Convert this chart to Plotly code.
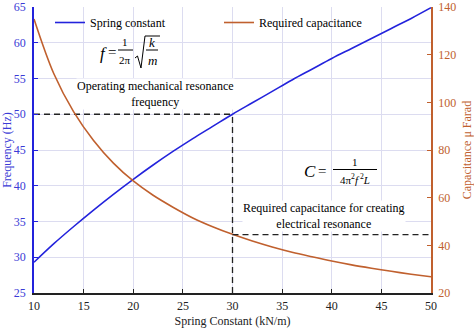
import plotly.graph_objects as go

# ---- data ----
spring_k = [10, 12, 14, 16, 18, 20, 22, 24, 26, 28, 30, 32, 34, 36, 38, 40, 42, 44, 46, 48, 50]
frequency_hz = [29.3, 31.9, 34.3, 36.6, 38.8, 40.9, 42.9, 44.8, 46.6, 48.3, 50.0,
                51.6, 53.2, 54.8, 56.3, 57.8, 59.2, 60.6, 62.0, 63.4, 64.9]
capacitance_uf = [135, 112, 96, 84, 74.5, 67, 61, 56, 51.5, 47.8, 44.6,
                  41.8, 39.3, 37.1, 35.2, 33.4, 31.8, 30.4, 29.1, 27.9, 26.8]

k_operating = 30
f_operating = 50
c_required = 44.5
x_range = [10, 50]
f_range = [25, 65]
c_range = [20, 140]

BLUE = "#2323dc"
BLUE_TXT = "#3b3bd6"
BROWN = "#c0602e"
GRID = "#dcdcf0"
FONT = "Liberation Serif"
FS = 12

fig = go.Figure()
fig.add_trace(go.Scatter(x=spring_k, y=frequency_hz, mode="lines", name="Spring constant",
                         line=dict(color=BLUE, width=1.6), line_shape="spline"))
fig.add_trace(go.Scatter(x=spring_k, y=capacitance_uf, mode="lines", name="Required capacitance",
                         line=dict(color=BROWN, width=1.6), line_shape="spline", yaxis="y2"))

dash = dict(color="#222222", width=1.3, dash="6px,4px")
fig.add_trace(go.Scatter(x=[x_range[0], k_operating], y=[f_operating, f_operating], mode="lines",
                         line=dash, showlegend=False, hoverinfo="skip"))
fig.add_trace(go.Scatter(x=[k_operating, k_operating], y=[f_range[0], f_operating], mode="lines",
                         line=dash, showlegend=False, hoverinfo="skip"))
fig.add_trace(go.Scatter(x=[k_operating, x_range[1]], y=[c_required, c_required], mode="lines",
                         line=dash, showlegend=False, hoverinfo="skip", yaxis="y2"))

L, R, T, B = 34, 431, 7, 293
W, H = 474, 330


def px(x):
    return (x - L) / (R - L)


def py(y):
    return (B - y) / (B - T)


ann = []
shapes = []


def txt(x, y, s, size=FS, color="black", bg=None, italic=False, xanchor="center"):
    if italic:
        s = "<i>" + s + "</i>"
    d = dict(x=px(x), y=py(y), xref="paper", yref="paper", text=s, showarrow=False,
             font=dict(family=FONT, size=size, color=color), xanchor=xanchor, yanchor="middle",
             borderpad=0)
    if bg:
        d["bgcolor"] = bg
    ann.append(d)


def hline(x0, x1, y, w=1):
    shapes.append(dict(type="line", xref="paper", yref="paper", x0=px(x0), x1=px(x1),
                       y0=py(y), y1=py(y), line=dict(color="black", width=w)))


def wbox(x0, x1, y0, y1):
    shapes.append(dict(type="rect", xref="paper", yref="paper", x0=px(x0), x1=px(x1),
                       y0=py(y1), y1=py(y0), fillcolor="white", line=dict(width=0),
                       layer="between"))


# f = 1/(2pi) sqrt(k/m)
wbox(90, 164, 30, 73)
txt(103, 53, "f", size=17, italic=True)
txt(112, 52, "=", size=15)
txt(125, 42, "1", size=11)
hline(118, 133, 50)
txt(125, 60, "2π", size=11)
# radical sign drawn as a path
shapes.append(dict(type="path", xref="paper", yref="paper",
                   path="M %f,%f L %f,%f L %f,%f L %f,%f L %f,%f" % (
                       px(135), py(58), px(137.5), py(56), px(141), py(68),
                       px(145), py(36), px(160), py(36)),
                   line=dict(color="black", width=1)))
txt(152, 43, "k", size=13, italic=True)
hline(146, 158, 50)
txt(152, 60, "m", size=13, italic=True)

# C = 1/(4 pi^2 f^2 L)
wbox(300, 382, 155, 188)
txt(310, 172, "C", size=17, italic=True)
txt(322, 171, "=", size=15)
txt(355, 162, "1", size=11)
hline(333, 377, 169.5)
txt(355, 179, "4π<sup>2</sup><i>f</i><sup> 2</sup><i>L</i>", size=11)

txt(155, 94, "Operating mechanical resonance<br>frequency", bg="white")
txt(324, 216, "Required capacitance for creating<br>electrical resonance", bg="white")

fig.update_layout(
    width=W, height=H, margin=dict(l=L, r=W - R, t=T, b=H - B),
    paper_bgcolor="white", plot_bgcolor="white",
    font=dict(family=FONT, size=FS, color="black"),
    showlegend=True,
    legend=dict(orientation="h", x=px(50), y=py(8), xanchor="left", yanchor="top",
                bgcolor="rgba(0,0,0,0)", font=dict(family=FONT, size=FS, color="black"),
                entrywidth=124, entrywidthmode="pixels", itemwidth=30,
                tracegroupgap=0),
    xaxis=dict(range=x_range, dtick=5, tick0=10, showgrid=True, gridcolor=GRID, gridwidth=1,
               ticks="inside", ticklen=4, tickcolor="#222", showline=True, linecolor="#222",
               linewidth=1.5, zeroline=False, tickfont=dict(family=FONT, size=FS, color="#222"),
               ticklabelstandoff=1, automargin=False,
               title=dict(text="Spring Constant (kN/m)", font=dict(family=FONT, size=FS, color="#222"),
                          standoff=4)),
    yaxis=dict(range=f_range, dtick=5, showgrid=True, gridcolor=GRID, gridwidth=1,
               ticks="inside", ticklen=4, tickcolor=BLUE, showline=True, linecolor=BLUE,
               linewidth=1.5, zeroline=False, tickfont=dict(family=FONT, size=FS, color=BLUE_TXT),
               ticklabelstandoff=4, automargin=False,
               title=dict(text="Frequency (Hz)", font=dict(family=FONT, size=FS, color=BLUE_TXT),
                          standoff=2)),
    yaxis2=dict(range=c_range, dtick=20, overlaying="y", side="right", showgrid=False,
                ticks="inside", ticklen=4, tickcolor=BROWN, showline=True, linecolor=BROWN,
                linewidth=1.5, zeroline=False, tickfont=dict(family=FONT, size=FS, color=BROWN),
                ticklabelstandoff=3, automargin=False,
                title=dict(text="Capacitance μ Farad", font=dict(family=FONT, size=FS, color=BROWN),
                           standoff=8)),
    annotations=ann, shapes=shapes,
)

fig.write_html("out.html")
